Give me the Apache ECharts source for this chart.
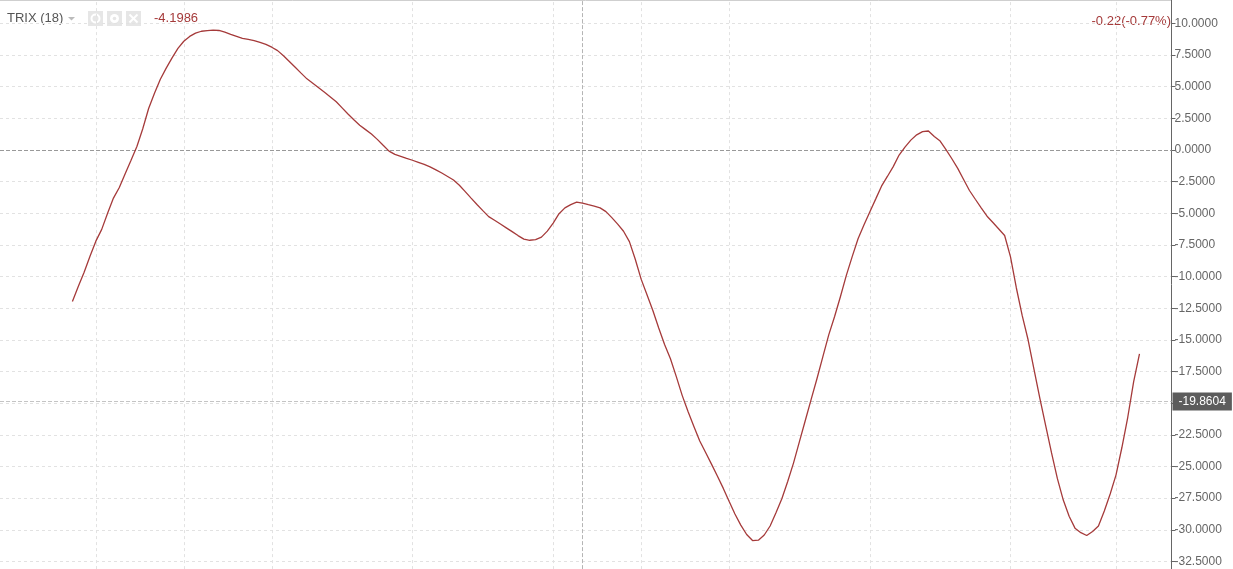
<!DOCTYPE html>
<html><head><meta charset="utf-8">
<script src="https://cdn.jsdelivr.net/npm/echarts@6/dist/echarts.min.js"></script>
<style>html,body{margin:0;padding:0;background:#fff;overflow:hidden}#c{width:1233px;height:569px}</style>
</head><body><div id="c"></div>
<script>
const seriesName = 'TRIX (18)';
const trixValues = [
-11.97,-10.79,-9.66,-8.39,-7.20,-6.27,-5.00,-3.80,-2.96,-1.87,
-0.81,0.28,1.68,3.28,4.49,5.59,6.47,7.28,8.03,8.59,
8.97,9.23,9.38,9.43,9.47,9.44,9.31,9.14,8.98,8.82,
8.73,8.64,8.50,8.34,8.12,7.85,7.45,6.99,6.53,6.07,
5.62,5.27,4.92,4.56,4.19,3.81,3.33,2.84,2.39,1.96,
1.61,1.26,0.84,0.37,-0.09,-0.35,-0.50,-0.66,-0.81,-0.97,
-1.13,-1.33,-1.57,-1.82,-2.09,-2.37,-2.78,-3.29,-3.80,-4.30,
-4.79,-5.26,-5.55,-5.85,-6.15,-6.45,-6.76,-7.04,-7.13,-7.08,
-6.88,-6.41,-5.77,-5.03,-4.57,-4.31,-4.12,-4.1986,-4.32,-4.44,
-4.57,-4.87,-5.34,-5.86,-6.42,-7.24,-8.63,-10.20,-11.44,-12.68,
-14.06,-15.36,-16.49,-17.90,-19.38,-20.66,-21.84,-22.98,-23.90,-24.81,
-25.75,-26.71,-27.75,-28.75,-29.63,-30.37,-30.85,-30.82,-30.41,-29.70,
-28.65,-27.55,-26.18,-24.71,-23.03,-21.37,-19.70,-18.05,-16.32,-14.60,
-13.15,-11.57,-9.90,-8.42,-7.01,-5.93,-4.89,-3.88,-2.86,-2.09,
-1.31,-0.40,0.23,0.78,1.20,1.45,1.50,1.07,0.71,0.03,
-0.69,-1.45,-2.33,-3.20,-3.89,-4.57,-5.23,-5.73,-6.24,-6.75,
-8.44,-10.90,-13.09,-14.99,-17.30,-19.60,-21.78,-23.93,-25.96,-27.65,
-28.93,-29.87,-30.23,-30.45,-30.13,-29.70,-28.52,-27.17,-25.66,-23.50,
-21.11,-18.32,-16.10
];
const verticalGridIdx = [4, 19, 34, 58, 82, 97, 112, 136, 160, 178];
const crosshairIdx = 87;
const crosshairValue = -19.8604;
const legendValue = '-4.1986';
const changeText = '-0.22(-0.77%)';
const yMin = -35, yMax = 12.5, yInterval = 2.5;
const xMin = -12.35, xMax = 187.46;

const FONT = 'Arial, "Liberation Sans", sans-serif';
const lineColor = '#a53a3a';
const chart = echarts.init(document.getElementById('c'), null, {renderer: 'canvas'});

const gridMarks = verticalGridIdx.map(i => ({
  xAxis: i,
  lineStyle: {color: '#e2e2e2', type: [3, 3], width: 1}
}));

chart.setOption({
  animation: false,
  grid: {left: 0, right: 61.5, top: -8.25, bottom: -24.1, containLabel: false, outerBoundsMode: 'none'},
  xAxis: {
    type: 'value', min: xMin, max: xMax,
    axisLine: {show: false}, axisTick: {show: false}, axisLabel: {show: false},
    splitLine: {show: false}
  },
  yAxis: {
    type: 'value', position: 'right', min: yMin, max: yMax, interval: yInterval,
    axisLine: {show: true, onZero: false, lineStyle: {color: '#666', width: 1}},
    axisTick: {show: true, length: 4, lineStyle: {color: '#666'}},
    axisLabel: {
      margin: 3, color: '#666', fontSize: 12, fontFamily: FONT,
      formatter: v => v.toFixed(4)
    },
    splitLine: {show: true, lineStyle: {color: '#e2e2e2', type: [3, 3], width: 1}}
  },
  series: [{
    name: 'guides',
    type: 'line',
    data: [],
    z: 1,
    silent: true,
    markLine: {
      silent: true, symbol: 'none', animation: false,
      label: {show: false},
      data: gridMarks.concat([
        {yAxis: 0, lineStyle: {color: '#999', type: [4, 2], width: 1}},
        {xAxis: crosshairIdx, lineStyle: {color: '#b5b5b5', type: [4, 2], width: 1}},
        {yAxis: crosshairValue, lineStyle: {color: '#c4c4c4', type: [4, 2], width: 1},
         label: {show: true, position: 'end', distance: 1, formatter: crosshairValue.toFixed(4),
                 backgroundColor: '#5c5c5c', color: '#fff', fontSize: 12, fontFamily: FONT,
                 padding: [3, 6, 3, 6]}}
      ])
    }
  }, {
    name: seriesName,
    type: 'line',
    z: 5,
    data: trixValues.map((v, i) => [i, v]),
    symbol: 'none',
    smooth: false,
    lineStyle: {color: lineColor, width: 1.3}
  }],
  graphic: [
    {type: 'line', silent: true, shape: {x1: 0, y1: 0.5, x2: 1171, y2: 0.5}, style: {stroke: '#cfcfcf', lineWidth: 1}},
    {type: 'text', x: 7, y: 18.5, style: {text: seriesName, fill: '#555', font: '13px ' + FONT, verticalAlign: 'middle'}},
    {type: 'polygon', shape: {points: [[68, 17], [75, 17], [71.5, 20.5]]}, style: {fill: '#bbb'}},
    {type: 'rect', shape: {x: 88, y: 11, width: 15, height: 15}, style: {fill: '#e6e6e6'}},
    {type: 'circle', shape: {cx: 95.5, cy: 18.5, r: 4}, style: {fill: 'none', stroke: '#fff', lineWidth: 2}},
    {type: 'rect', shape: {x: 107, y: 11, width: 15, height: 15}, style: {fill: '#e6e6e6'}},
    {type: 'circle', shape: {cx: 114.5, cy: 18.5, r: 4.5}, style: {fill: '#fff'}},
    {type: 'circle', shape: {cx: 114.5, cy: 18.5, r: 1.8}, style: {fill: '#e6e6e6'}},
    {type: 'rect', shape: {x: 126, y: 11, width: 15, height: 15}, style: {fill: '#e6e6e6'}},
    {type: 'line', shape: {x1: 129.5, y1: 14.5, x2: 137.5, y2: 22.5}, style: {stroke: '#fff', lineWidth: 2}},
    {type: 'line', shape: {x1: 137.5, y1: 14.5, x2: 129.5, y2: 22.5}, style: {stroke: '#fff', lineWidth: 2}},
    {type: 'text', x: 154, y: 18.5, style: {text: legendValue, fill: lineColor, font: '13px ' + FONT, verticalAlign: 'middle'}},
    {type: 'text', x: 1171, y: 21, style: {text: changeText, fill: lineColor, font: '13px ' + FONT, align: 'right', verticalAlign: 'middle'}}
  ]
});
</script>
</body></html>
